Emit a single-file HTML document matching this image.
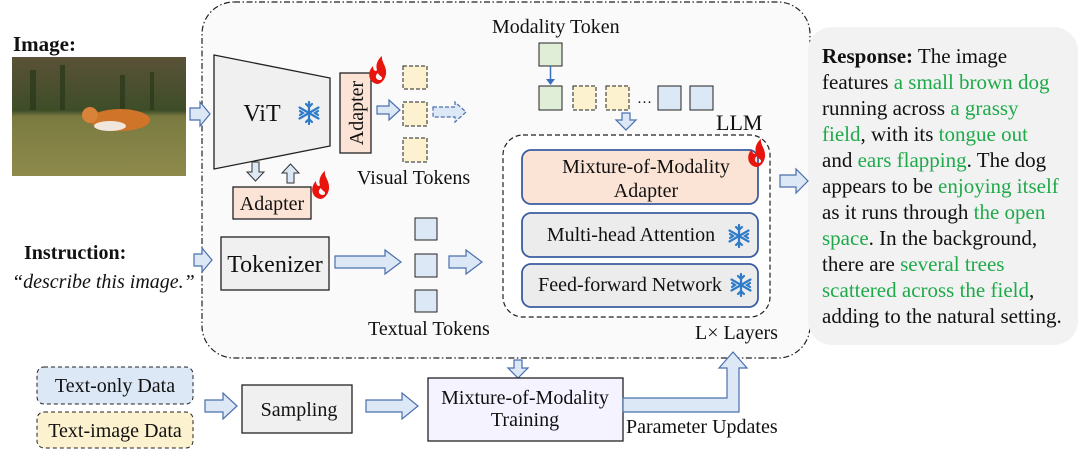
<!DOCTYPE html>
<html><head><meta charset="utf-8"><style>
body{margin:0;width:1080px;height:454px;background:#fff;overflow:hidden}
svg text{font-family:"Liberation Serif",serif;fill:#111}
.g{fill:#1faa4a}
</style></head><body>
<svg width="1080" height="454" viewBox="0 0 1080 454">
<defs>
<linearGradient id="sky" x1="0" y1="0" x2="0" y2="1">
<stop offset="0" stop-color="#5a5238"/><stop offset="0.45" stop-color="#3e4d28"/><stop offset="0.5" stop-color="#7a7a40"/><stop offset="1" stop-color="#8e8a4c"/></linearGradient>
<g id="snow" stroke="#2f7bc8" stroke-width="2.2" fill="none" stroke-linecap="round">
<line x1="0" y1="-11" x2="0" y2="11"/><line x1="-9.5" y1="-5.5" x2="9.5" y2="5.5"/><line x1="-9.5" y1="5.5" x2="9.5" y2="-5.5"/>
<path d="M-3,-9 L0,-6 L3,-9 M-3,9 L0,6 L3,9 M-9,-2 L-6,0 L-9,2 M9,-2 L6,0 L9,2"/></g>
<g id="flame"><path d="M0,14 C-9,12 -10,2 -4,-4 C-4,1 -1,2 0,0 C-2,-6 2,-12 5,-14 C4,-8 10,-4 9,4 C8,10 4,14 0,14 Z M2,10 C-2,9 -2,5 1,3 C2,6 5,6 5,8 C5,10 3,10 2,10Z" fill="#e8150f" fill-rule="evenodd"/></g>
</defs>
<rect x="202" y="2" width="608" height="356" rx="32" fill="#fafafa" stroke="#222" stroke-width="1.2" stroke-dasharray="6,2.5,1.5,2.5"/>
<rect x="808" y="27" width="270" height="318" rx="24" fill="#f2f2f2"/>
<text x="13" y="51" font-size="21" font-weight="bold">Image:</text>
<rect x="12" y="57" width="174" height="119" fill="url(#sky)"/>
<g fill="#2c3a1c" opacity="0.8"><rect x="30" y="70" width="6" height="40"/><rect x="60" y="65" width="5" height="45"/><rect x="120" y="75" width="5" height="35"/><rect x="150" y="72" width="4" height="38"/></g>
<ellipse cx="120" cy="120" rx="30" ry="11" fill="#d0742a"/><circle cx="90" cy="115" r="8" fill="#d8823a"/><ellipse cx="110" cy="126" rx="16" ry="5" fill="#f0e6dc"/>
<path d="M190,108 h10 v-6 l10,12 l-10,12 v-6 h-10 z" fill="#dde8f6" stroke="#4a6fae" stroke-width="1.2"/>
<polygon points="214,55 330,78 330,146 214,169" fill="#f0f0f0" stroke="#222" stroke-width="1.3"/>
<text x="262" y="121" font-size="24" text-anchor="middle">ViT</text>
<use href="#snow" x="309" y="113"/>
<rect x="340" y="73" width="31" height="80" fill="#fbe3d5" stroke="#222" stroke-width="1.3"/>
<text transform="translate(363,113) rotate(-90)" font-size="20" text-anchor="middle">Adapter</text>
<use href="#flame" x="377" y="70"/>
<path d="M377,106 h12 v-6 l11,10 l-11,10 v-6 h-12 z" fill="#dde8f6" stroke="#4a6fae" stroke-width="1.2"/>
<rect x="403" y="66" width="24" height="23" fill="#fdf2d0" stroke="#222" stroke-dasharray="4,2"/>
<rect x="403" y="102" width="24" height="24" fill="#fdf2d0" stroke="#222" stroke-dasharray="4,2"/>
<rect x="403" y="138" width="24" height="24" fill="#fdf2d0" stroke="#222" stroke-dasharray="4,2"/>
<path d="M433,107 h22 v-5 l11,10 l-11,10 v-5 h-22 z" fill="#dde8f6" stroke="#4a6fae" stroke-width="1.2" stroke-dasharray="4,2"/>
<text x="357" y="184" font-size="20">Visual Tokens</text>
<path d="M252,162 h7 v10 h5 l-8.5,9 l-8.5,-9 h5 z" fill="#dde8f6" stroke="#333" stroke-width="1"/>
<path d="M287,183 h7 v-10 h5 l-8.5,-9 l-8.5,9 h5 z" fill="#dde8f6" stroke="#333" stroke-width="1"/>
<rect x="233" y="187" width="78" height="32" fill="#fbe3d5" stroke="#222" stroke-width="1.3"/>
<text x="272" y="210" font-size="20" text-anchor="middle">Adapter</text>
<use href="#flame" x="320" y="185"/>
<text x="24" y="259" font-size="20" font-weight="bold">Instruction:</text>
<text x="12" y="288" font-size="20" font-style="italic">“describe this image.”</text>
<path d="M194,254 h8 v-6 l10,12 l-10,12 v-6 h-8 z" fill="#dde8f6" stroke="#4a6fae" stroke-width="1.2"/>
<rect x="221" y="237" width="108" height="53" fill="#f0f0f0" stroke="#222" stroke-width="1.3"/>
<text x="275" y="272" font-size="24" text-anchor="middle">Tokenizer</text>
<path d="M335,256 h50 v-6 l16,12 l-16,12 v-6 h-50 z" fill="#dde8f6" stroke="#4a6fae" stroke-width="1.2"/>
<rect x="415" y="218" width="22" height="22" fill="#dde8f6" stroke="#222"/>
<rect x="415" y="254" width="22" height="23" fill="#dde8f6" stroke="#222"/>
<rect x="415" y="290" width="22" height="22" fill="#dde8f6" stroke="#222"/>
<path d="M449,256 h17 v-6 l16,12 l-16,12 v-6 h-17 z" fill="#dde8f6" stroke="#4a6fae" stroke-width="1.2"/>
<text x="368" y="335" font-size="20">Textual Tokens</text>
<text x="492" y="33" font-size="20">Modality Token</text>
<rect x="539" y="43" width="23" height="23" fill="#e0eed8" stroke="#222"/>
<line x1="550.5" y1="66" x2="550.5" y2="80" stroke="#3a6fc0" stroke-width="1.5"/>
<path d="M546,79 l4.5,6 l4.5,-6 z" fill="#3a6fc0"/>
<rect x="539" y="86" width="23" height="24" fill="#e0eed8" stroke="#222"/>
<rect x="573" y="86" width="23" height="24" fill="#fdf2d0" stroke="#222" stroke-dasharray="4,2"/>
<rect x="606" y="86" width="23" height="24" fill="#fdf2d0" stroke="#222" stroke-dasharray="4,2"/>
<text x="637" y="103" font-size="15">…</text>
<rect x="658" y="86" width="23" height="24" fill="#dde8f6" stroke="#222"/>
<rect x="690" y="86" width="23" height="24" fill="#dde8f6" stroke="#222"/>
<path d="M622,113 h8 v7 h6 l-10,10 l-10,-10 h6 z" fill="#dde8f6" stroke="#4a6fae" stroke-width="1.2"/>
<text x="716" y="130" font-size="22">LLM</text>
<rect x="503" y="135" width="267" height="182" rx="20" fill="#fff" stroke="#222" stroke-width="1.2" stroke-dasharray="5,3"/>
<rect x="522" y="150" width="236" height="54" rx="9" fill="#fbe3d5" stroke="#3a5da0" stroke-width="1.8"/>
<text x="646" y="173" font-size="20" text-anchor="middle">Mixture-of-Modality</text>
<text x="646" y="197" font-size="20" text-anchor="middle">Adapter</text>
<use href="#flame" x="756" y="153"/>
<rect x="522" y="213" width="236" height="44" rx="9" fill="#ececec" stroke="#3a5da0" stroke-width="1.8"/>
<text x="631" y="241" font-size="20" text-anchor="middle">Multi-head Attention</text>
<use href="#snow" x="739" y="236"/>
<rect x="522" y="264" width="236" height="43" rx="9" fill="#ececec" stroke="#3a5da0" stroke-width="1.8"/>
<text x="630" y="291" font-size="20" text-anchor="middle">Feed-forward Network</text>
<use href="#snow" x="741" y="285"/>
<text x="695" y="339" font-size="20">L× Layers</text>
<path d="M780,175 h16 v-6 l12,12 l-12,12 v-6 h-16 z" fill="#dde8f6" stroke="#4a6fae" stroke-width="1.2"/>
<path d="M514,360 h8 v8 h6 l-10,10 l-10,-10 h6 z" fill="#dde8f6" stroke="#4a6fae" stroke-width="1.2"/>
<rect x="37" y="367" width="156" height="37" rx="7" fill="#dde8f6" stroke="#222" stroke-dasharray="4,3"/>
<text x="115" y="392" font-size="20" text-anchor="middle">Text-only Data</text>
<rect x="37" y="412" width="156" height="36" rx="7" fill="#fdf2d0" stroke="#222" stroke-dasharray="4,3"/>
<text x="115" y="437" font-size="20" text-anchor="middle">Text-image Data</text>
<path d="M205,400 h18 v-7 l14,13 l-14,13 v-7 h-18 z" fill="#dde8f6" stroke="#4a6fae" stroke-width="1.2"/>
<rect x="242" y="385" width="110" height="48" fill="#f0f0f0" stroke="#222" stroke-width="1.3"/>
<text x="299" y="416" font-size="20" text-anchor="middle">Sampling</text>
<path d="M366,400 h36 v-7 l16,13 l-16,13 v-7 h-36 z" fill="#dde8f6" stroke="#4a6fae" stroke-width="1.2"/>
<rect x="428" y="378" width="195" height="63" fill="#f5f3ff" stroke="#222" stroke-width="1.3"/>
<text x="525" y="404" font-size="20" text-anchor="middle">Mixture-of-Modality</text>
<text x="525" y="426" font-size="20" text-anchor="middle">Training</text>
<path d="M623,398 h104 v-30 h-8 l14,-16 l14,16 h-8 v44 h-116 z" fill="#dde8f6" stroke="#4a6fae" stroke-width="1.2"/>
<text x="626" y="433" font-size="20">Parameter Updates</text>
<g font-size="21">
<text x="822" y="63"><tspan font-weight="bold">Response:</tspan> The image</text>
<text x="822" y="89">features <tspan class="g">a small brown dog</tspan></text>
<text x="822" y="115">running across <tspan class="g">a grassy</tspan></text>
<text x="822" y="141"><tspan class="g">field</tspan>, with its <tspan class="g">tongue out</tspan></text>
<text x="822" y="167">and <tspan class="g">ears flapping</tspan>. The dog</text>
<text x="822" y="193">appears to be <tspan class="g">enjoying itself</tspan></text>
<text x="822" y="219">as it runs through <tspan class="g">the open</tspan></text>
<text x="822" y="245"><tspan class="g">space</tspan>. In the background,</text>
<text x="822" y="271">there are <tspan class="g">several trees</tspan></text>
<text x="822" y="297"><tspan class="g">scattered across the field</tspan>,</text>
<text x="822" y="323">adding to the natural setting.</text>
</g>
</svg>
</body></html>
